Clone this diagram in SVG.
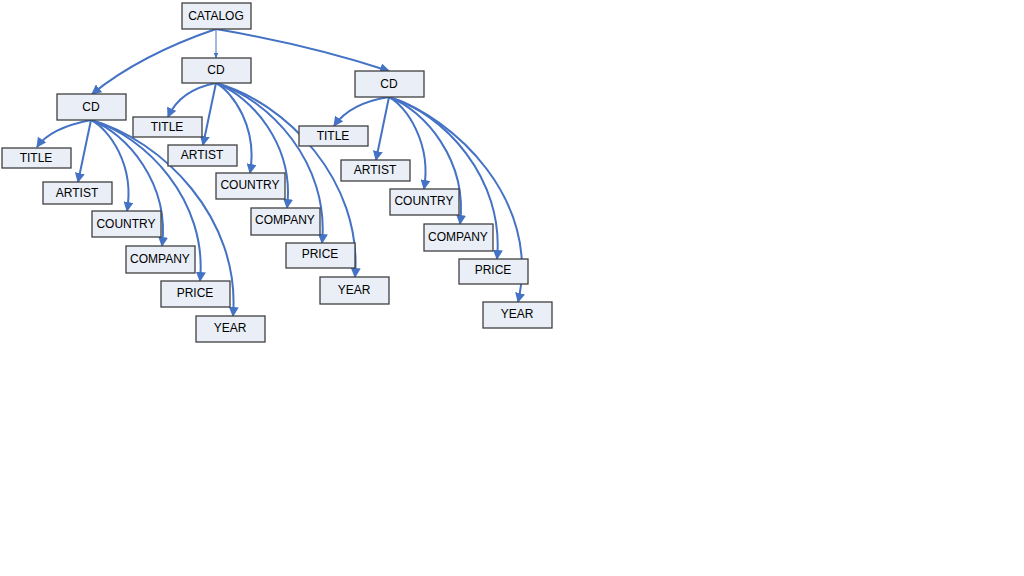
<svg xmlns="http://www.w3.org/2000/svg" width="1024" height="576" viewBox="0 0 1024 576">
<defs>
<marker id="a" viewBox="0 0 10 10" refX="9" refY="5" markerWidth="5" markerHeight="5" orient="auto"><path d="M0,0L10,5L0,10z" fill="#4472C4"/></marker>
<marker id="s" viewBox="0 0 10 10" refX="9" refY="5" markerWidth="6" markerHeight="6" orient="auto"><path d="M0,1L10,5L0,9z" fill="#4472C4"/></marker>
</defs>
<style>
rect{fill:#E9EEF7;stroke:#404040;stroke-width:1.3}
text{font-family:"Liberation Sans",Arial,sans-serif;font-size:12px;fill:#000;text-anchor:middle}
#connectors path{fill:none;stroke:#4472C4;stroke-width:2;marker-end:url(#a)}
#connectors path.thin{stroke-width:1;marker-end:url(#s)}
</style>
<rect x="0" y="0" width="1024" height="576" style="fill:#fff;stroke:none"/>
<g id="connectors">
<path d="M216,29 Q140,55 92,94"/>
<path class="thin" d="M216,29 L216,58"/>
<path d="M216,29 Q310,45 389,71"/>
<path d="M91,120 Q50,128 37,147"/>
<path d="M91,120 L78,182"/>
<path d="M91,120 C109,129 135,165 127,211"/>
<path d="M91,120 C126,133 170,183 162,246"/>
<path d="M91,120 C145,136 208,200 200,281"/>
<path d="M91,120 C162,140 241,218 233,316"/>
<path d="M216,83 Q180,90 168,117"/>
<path d="M216,83 L203,145"/>
<path d="M216,83 C233,92 258,128 250,173"/>
<path d="M216,83 C251,96 295,145 287,208"/>
<path d="M216,83 C269,99 330,163 322,243"/>
<path d="M216,83 C285,102 363,180 355,277"/>
<path d="M389,97 Q350,103 334,126"/>
<path d="M389,97 L376,160"/>
<path d="M389,97 C406,106 432,143 424,189"/>
<path d="M389,97 C424,110 468,160 460,224"/>
<path d="M389,97 C443,113 505,178 497,259"/>
<path d="M389,97 C453,117 542,200 518,302"/>
</g>
<g id="catalog"><rect x="182" y="3" width="69" height="26"/><text x="216" y="20">CATALOG</text></g>
<g id="cd2"><rect x="182" y="58" width="69" height="25"/><text x="216" y="74">CD</text></g>
<g id="cd1"><rect x="57" y="94" width="69" height="26"/><text x="91" y="111">CD</text></g>
<g id="cd3"><rect x="355" y="71" width="69" height="26"/><text x="389" y="88">CD</text></g>
<g id="t1"><rect x="2" y="148" width="69" height="20"/><text x="36" y="162">TITLE</text></g>
<g id="a1"><rect x="43" y="182" width="69" height="22"/><text x="77" y="197">ARTIST</text></g>
<g id="c1"><rect x="92" y="211" width="69" height="26"/><text x="126" y="228">COUNTRY</text></g>
<g id="co1"><rect x="126" y="246" width="69" height="27"/><text x="160" y="263">COMPANY</text></g>
<g id="p1"><rect x="161" y="281" width="69" height="26"/><text x="195" y="297">PRICE</text></g>
<g id="y1"><rect x="196" y="316" width="69" height="26"/><text x="230" y="332">YEAR</text></g>
<g id="t2"><rect x="133" y="117" width="69" height="20"/><text x="167" y="131">TITLE</text></g>
<g id="a2"><rect x="168" y="145" width="69" height="21"/><text x="202" y="159">ARTIST</text></g>
<g id="c2"><rect x="216" y="173" width="69" height="26"/><text x="250" y="189">COUNTRY</text></g>
<g id="co2"><rect x="251" y="208" width="69" height="27"/><text x="285" y="224">COMPANY</text></g>
<g id="p2"><rect x="286" y="243" width="69" height="25"/><text x="320" y="258">PRICE</text></g>
<g id="y2"><rect x="320" y="277" width="69" height="27"/><text x="354" y="294">YEAR</text></g>
<g id="t3"><rect x="299" y="126" width="69" height="20"/><text x="333" y="140">TITLE</text></g>
<g id="a3"><rect x="341" y="160" width="69" height="21"/><text x="375" y="174">ARTIST</text></g>
<g id="c3"><rect x="390" y="189" width="69" height="26"/><text x="424" y="205">COUNTRY</text></g>
<g id="co3"><rect x="424" y="224" width="69" height="27"/><text x="458" y="241">COMPANY</text></g>
<g id="p3"><rect x="459" y="259" width="69" height="25"/><text x="493" y="274">PRICE</text></g>
<g id="y3"><rect x="483" y="302" width="69" height="26"/><text x="517" y="318">YEAR</text></g>
</svg>
